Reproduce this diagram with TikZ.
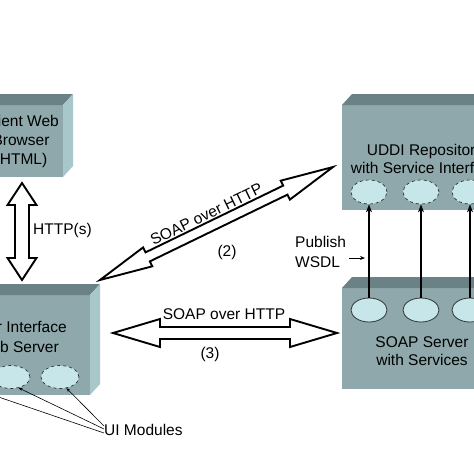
\documentclass[tikz,border=0pt]{standalone}
\usepackage{fontspec}
\setmainfont{Liberation Sans}
\usetikzlibrary{calc,arrows.meta,shapes.geometric}
\definecolor{frontc}{RGB}{142,168,171}
\definecolor{topc}{RGB}{106,130,133}
\definecolor{sidec}{RGB}{168,199,203}
\definecolor{ellc}{RGB}{198,230,233}
\tikzset{
  front/.style={fill=frontc},
  topface/.style={fill=topc},
  sideface/.style={fill=sidec},
  modell/.style={shape=ellipse, draw=black!80, fill=ellc, dashed, line width=0.7pt, inner sep=0pt},
  servell/.style={shape=ellipse, draw=black!80, fill=ellc, line width=0.8pt, inner sep=0pt},
  fat/.style={draw=black, line width=1.9pt, fill=white, line join=miter},
  lbl/.style={font=\fontsize{15.5}{18}\selectfont, inner sep=0pt, text=black},
  publish/.style={line width=2.3pt, -{Stealth[length=8pt,width=6pt]}},
  leader/.style={line width=0.6pt, -{Stealth[length=4pt,width=3pt]}}
}
\newcommand\cubebox[4]{% x1 y1 x2 y2 (pixel coords, y down)
  \fill[front] (#1,#2) rectangle (#3,#4);
  \fill[topface] (#1,#2) -- (#3,#2) -- ($(#3,#2)+(10,-11)$) -- ($(#1,#2)+(10,-11)$) -- cycle;
  \fill[sideface] (#3,#2) -- ($(#3,#2)+(10,-11)$) -- ($(#3,#4)+(10,-11)$) -- (#3,#4) -- cycle;
}
\newcommand\fatarrow[5]{% tipA tipB headlen halfhead halfshaft
  \coordinate (ha) at ($(#1)!#3!(#2)$);
  \coordinate (hb) at ($(#2)!#3!(#1)$);
  \draw[fat] (#1) -- ($(ha)!#4!90:(#2)$) -- ($(ha)!#5!90:(#2)$) -- ($(hb)!#5!-90:(#1)$) -- ($(hb)!#4!-90:(#1)$) -- (#2)
   -- ($(hb)!#4!90:(#1)$) -- ($(hb)!#5!90:(#1)$) -- ($(ha)!#5!-90:(#2)$) -- ($(ha)!#4!-90:(#2)$) -- cycle;
}
\begin{document}
\begin{tikzpicture}[x=1pt,y=-1pt]
\useasboundingbox (0,0) rectangle (474,474);
\fill[white] (0,0) rectangle (474,474);
\clip (0,0) rectangle (474,474);

% boxes
\cubebox{-21}{105}{63}{177}
\cubebox{-65}{295}{90}{395}
\cubebox{342}{105}{530}{210}
\cubebox{342}{288}{530}{389}

% box texts
\node[lbl, align=center, font=\fontsize{15.5}{19}\selectfont] (client) at (21,141) {Client Web\\Browser\\(HTML)};
\node[lbl, align=center, font=\fontsize{15.5}{20}\selectfont] (uiserver) at (18,337) {User Interface\\Web Server};
\node[lbl, align=center, font=\fontsize{15.5}{17.5}\selectfont] (uddi) at (425,159) {UDDI Repository\\with Service Interface};
\node[lbl, align=center] (soap) at (422,351) {SOAP Server\\with Services};

% UI modules
\node[modell, minimum width=38pt, minimum height=23pt] (um1) at (-38,377) {};
\node[modell, minimum width=38pt, minimum height=23pt] (um2) at (11,377) {};
\node[modell, minimum width=38pt, minimum height=23pt] (um3) at (60,377) {};

% UDDI interfaces and services
\foreach \x/\n in {369/1,421/2,470/3}{
  \node[modell, minimum width=36pt, minimum height=24pt] (ui\n) at (\x,192) {};
  \node[servell, minimum width=36pt, minimum height=24pt] (sv\n) at (\x,310) {};
}
\foreach \n in {1,2,3}{
  \draw[publish] (sv\n.north) -- (ui\n.south);
}

% fat arrows
\coordinate (h1) at (22,183);
\coordinate (h2) at (22,280);
\fatarrow{h1}{h2}{22pt}{14.5pt}{7pt}
\node[lbl, anchor=west] (http) at (33,230) {HTTP(s)};

\coordinate (s2a) at (100,280);
\coordinate (s2b) at (333,167);
\fatarrow{s2a}{s2b}{53pt}{10.5pt}{5pt}
\path (s2a) -- (s2b) node[lbl, pos=0.48, sloped, above=7pt] (soap2) {SOAP over HTTP};
\node[lbl] (n2) at (227,252) {(2)};

\coordinate (s3a) at (113,333);
\coordinate (s3b) at (337,333);
\fatarrow{s3a}{s3b}{47pt}{14pt}{6pt}
\node[lbl] (soap3) at (224,314) {SOAP over HTTP};
\node[lbl] (n3) at (210,354) {(3)};

% publish WSDL
\node[lbl, align=left, anchor=west, font=\fontsize{15.5}{20}\selectfont] (pub) at (295,252) {Publish\\WSDL};
\coordinate (pubstart) at (349,258);
\coordinate (pubend) at (365,258);
\draw[line width=0.8pt, -{Stealth[length=5pt,width=4pt]}] (pubstart) -- (pubend);

% UI Modules label and leaders
\node[lbl, anchor=west] (uim) at (104,430) {UI Modules};
\draw[leader] ([yshift=4pt]uim.west) -- (um3.-60);
\draw[leader] ([yshift=1pt]uim.west) -- (um2.-55);
\draw[leader] ([yshift=-3pt]uim.west) -- (um1.-50);
\end{tikzpicture}
\end{document}
